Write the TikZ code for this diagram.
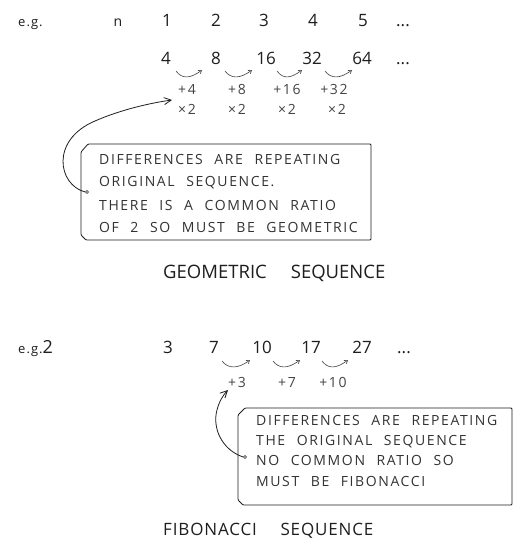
\documentclass[tikz,border=0pt]{standalone}
\usepackage{fontspec}
\setmainfont{Open Sans}
\newfontfamily\boxfont[LetterSpace=11.5,WordSpace=2.2]{Open Sans}
\newfontfamily\titlefont[WordSpace=5]{Open Sans}
\newfontfamily\titlefontb[LetterSpace=5,WordSpace=4.5]{Open Sans}
\newfontfamily\difffont[LetterSpace=12]{Open Sans}
\newfontfamily\egfont[LetterSpace=8]{Open Sans}
\usetikzlibrary{arrows.meta}
\definecolor{ink}{HTML}{1E1E1E}
\definecolor{boxink}{HTML}{333333}
\definecolor{lightink}{HTML}{444444}
\begin{document}
\begin{tikzpicture}[x=1pt,y=-1pt,
 numtxt/.style={anchor=base,font=\fontsize{17}{17}\selectfont,text=ink,inner sep=0},
 difftxt/.style={anchor=base,font=\difffont\fontsize{14}{14}\selectfont,text=lightink,inner sep=0},
 smalltxt/.style={anchor=base west,font=\egfont\fontsize{13}{13}\selectfont,text=ink,inner sep=0},
 boxline/.style={anchor=base west,font=\boxfont\fontsize{14}{14}\selectfont,text=boxink,inner sep=0},
 seqtitle/.style={anchor=base west,font=\titlefont\fontsize{18.5}{18.5}\selectfont,text=ink,inner sep=0},
 seqtitleb/.style={anchor=base west,font=\titlefontb\fontsize{17}{17}\selectfont,text=ink,inner sep=0},
 tagbox/.style={draw=ink,line width=0.8pt,rounded corners=1pt},
 hop/.style={draw=lightink,line width=0.6pt,-{Straight Barb[length=3pt,width=4pt]}},
 callout/.style={draw=ink,line width=0.8pt,-{Straight Barb[length=7pt,width=7pt]}},
 pindot/.style={circle,draw=ink,line width=0.6pt,inner sep=0,minimum size=3pt,fill=white}
]
\fill[white] (0,0) rectangle (524,545);
\useasboundingbox (0,0) rectangle (524,545);

% ---------- example 1 ----------
\node[smalltxt] (eg1) at (18,27) {e.g.};
\node[numtxt,font=\fontsize{14}{14}\selectfont] (n) at (118,27) {n};
\foreach \v/\x in {1/167,2/216,3/264,4/313,5/363}
  \node[numtxt] (i\v) at (\x,27) {\v};
\node[numtxt] (idots) at (403,27) {...};

\node[numtxt] (a1) at (166,65) {4};
\node[numtxt] (a2) at (216,65) {8};
\node[numtxt] (a3) at (266,65) {16};
\node[numtxt] (a4) at (312,65) {32};
\node[numtxt] (a5) at (362,65) {64};
\node[numtxt] (adots) at (403,65) {...};

\foreach \s/\e in {176/202,225/252,277/302,325/352}
  \draw[hop] (\s,71) .. controls (\s+6,79) and (\e-12,79) .. (\e,70);

\node[difftxt] (d1) at (187,95) {+4};
\node[difftxt] (d2) at (237,95) {+8};
\node[difftxt] (d3) at (287,95) {+16};
\node[difftxt] (d4) at (334,95) {+32};
\foreach \k/\x in {1/187,2/237,3/287,4/337}
  \node[difftxt] (r\k) at (\x,115) {×2};

\draw[tagbox] (88,144) -- (371,144) -- (371,240) -- (86,240) -- (81,235) -- (81,152) -- cycle;
\node[boxline] (b1) at (99,165) {DIFFERENCES ARE REPEATING};
\node[boxline] (b2) at (99,187) {ORIGINAL SEQUENCE.};
\node[boxline] (b3) at (99,210) {THERE IS A COMMON RATIO};
\node[boxline] (b4) at (99,232) {OF 2 SO MUST BE GEOMETRIC};
\node[pindot] (p1) at (87,192) {};
\coordinate (t1) at (172,100);
\draw[callout] (p1.west) .. controls (58,185) and (50,140) .. (95,121) .. controls (120,110) and (150,103) .. (t1);

\node[seqtitle] (g1) at (163,278) {GEOMETRIC SEQUENCE};

% ---------- example 2 ----------
\node[smalltxt] (eg2) at (18,353) {e.g.\fontsize{18}{18}\selectfont 2};
\node[numtxt] (c1) at (168,353) {3};
\node[numtxt] (c2) at (214,353) {7};
\node[numtxt] (c3) at (262,353) {10};
\node[numtxt] (c4) at (311,353) {17};
\node[numtxt] (c5) at (362,353) {27};
\node[numtxt] (cdots) at (404,353) {...};

\foreach \s/\e in {222/250,273/300,322/348}
  \draw[hop] (\s,361) .. controls (\s+6,369) and (\e-12,369) .. (\e,360);

\node[difftxt] (e1) at (237,387) {+3};
\node[difftxt] (e2) at (287,387) {+7};
\node[difftxt] (e3) at (333,387) {+10};

\draw[tagbox] (245,408) -- (512,408) -- (512,505) -- (243,505) -- (238,500) -- (238,415) -- cycle;
\node[boxline] (f1) at (256,425) {DIFFERENCES ARE REPEATING};
\node[boxline] (f2) at (256,445) {THE ORIGINAL SEQUENCE};
\node[boxline] (f3) at (256,465) {NO COMMON RATIO SO};
\node[boxline] (f4) at (256,486) {MUST BE FIBONACCI};
\node[pindot] (p2) at (245,457) {};
\coordinate (t2) at (228,390);
\draw[callout] (p2.west) .. controls (222,450) and (212,428) .. (217,410) .. controls (219,402) and (223,395) .. (t2);

\node[seqtitleb] (g2) at (163,535) {FIBONACCI SEQUENCE};
\end{tikzpicture}
\end{document}
